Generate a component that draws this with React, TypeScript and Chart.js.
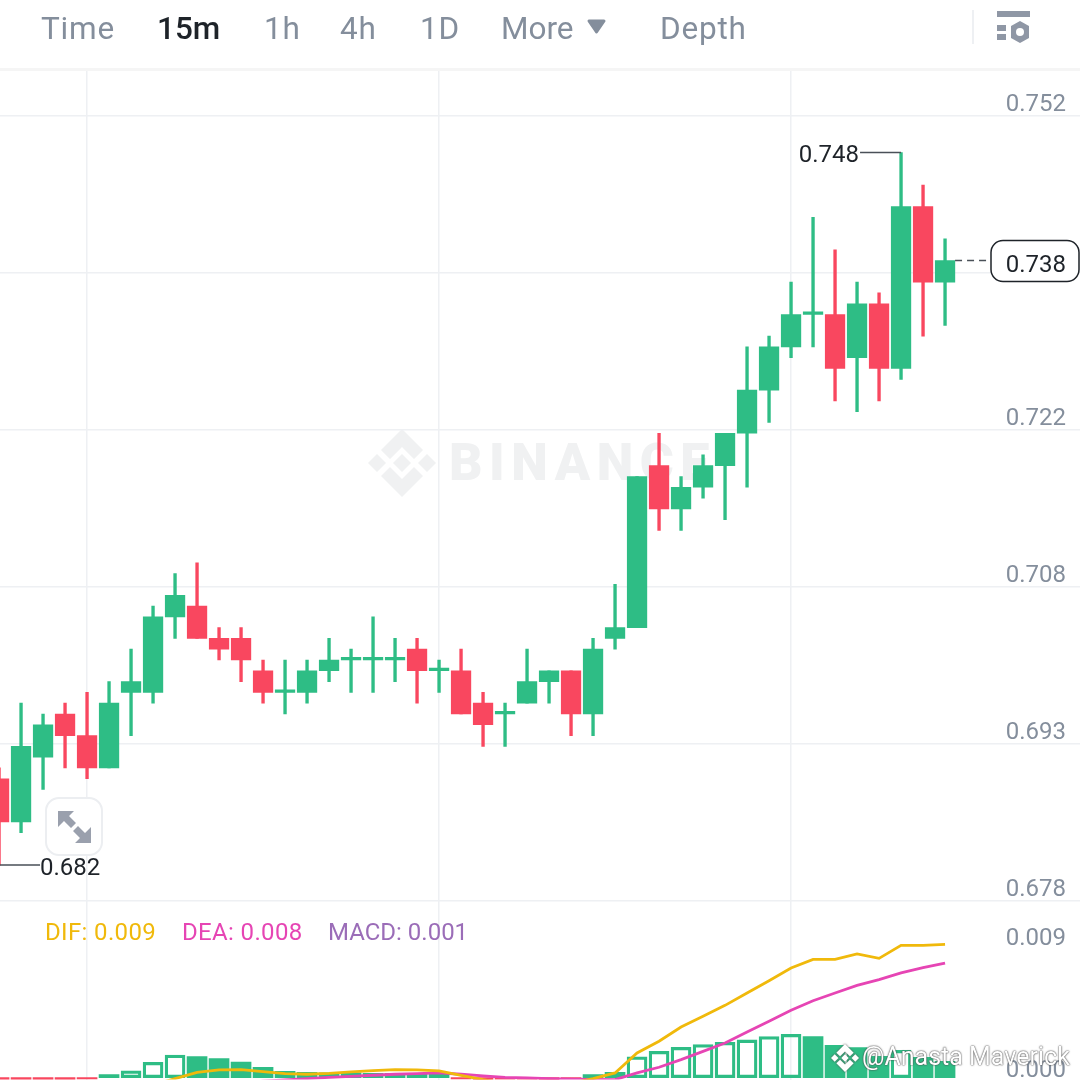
import { useEffect, useRef } from "react";
import { Chart, registerables } from "chart.js";

Chart.register(...registerables);

const opens = [
  0.69, 0.686, 0.692, 0.696, 0.694, 0.691, 0.698, 0.698, 0.705, 0.706, 0.703, 0.703, 0.7, 0.698, 0.698, 0.7, 0.701,
  0.701, 0.701, 0.702, 0.7, 0.7, 0.697, 0.696, 0.697, 0.699, 0.7, 0.696, 0.703, 0.704, 0.719, 0.715, 0.717, 0.719,
  0.722, 0.726, 0.73, 0.733, 0.733, 0.729, 0.734, 0.728, 0.743, 0.736
];
const closes = [
  0.686, 0.693, 0.695, 0.694, 0.691, 0.697, 0.699, 0.705, 0.707, 0.703, 0.702, 0.701, 0.698, 0.698, 0.7, 0.701, 0.701,
  0.701, 0.701, 0.7, 0.7, 0.696, 0.695, 0.696, 0.699, 0.7, 0.696, 0.702, 0.704, 0.718, 0.715, 0.717, 0.719, 0.722,
  0.726, 0.73, 0.733, 0.733, 0.728, 0.734, 0.728, 0.743, 0.736, 0.738
];
const highs = [
  0.691, 0.697, 0.696, 0.697, 0.698, 0.699, 0.702, 0.706, 0.709, 0.71, 0.704, 0.704, 0.701, 0.701, 0.701, 0.703, 0.702,
  0.705, 0.703, 0.703, 0.701, 0.702, 0.698, 0.697, 0.702, 0.7, 0.7, 0.703, 0.708, 0.718, 0.722, 0.718, 0.72, 0.722,
  0.73, 0.731, 0.736, 0.742, 0.739, 0.736, 0.735, 0.748, 0.745, 0.74
];
const lows = [
  0.682, 0.685, 0.689, 0.691, 0.69, 0.691, 0.694, 0.697, 0.703, 0.703, 0.701, 0.699, 0.697, 0.696, 0.697, 0.699, 0.698,
  0.698, 0.699, 0.697, 0.698, 0.696, 0.693, 0.693, 0.697, 0.697, 0.694, 0.694, 0.702, 0.704, 0.713, 0.713, 0.716, 0.714,
  0.717, 0.723, 0.729, 0.73, 0.725, 0.724, 0.725, 0.727, 0.731, 0.732
];

const macdBars = [
  -0.0002, -0.0002, -0.0002, -0.0002, -0.0001, 0.0002, 0.00046, 0.00105, 0.00155, 0.00144, 0.0013, 0.00107, 0.0007,
  0.00043, 0.00036, 0.00032, 0.00032, 0.00029, 0.00029, 0.00029, 0.00022, -0.0001, -0.00015, -0.00012, -0.00012,
  -0.00018, -0.00005, 0.0002, 0.00036, 0.00142, 0.0018, 0.00208, 0.00226, 0.00242, 0.00258, 0.00281, 0.00297, 0.00281,
  0.00221, 0.00205, 0.00146, 0.00187, 0.00139, 0.00112
];
const hollowBars = [6, 7, 8, 29, 30, 31, 32, 33, 34, 35, 36, 41];
const difValues = [
  -0.0017, -0.0017, -0.0016, -0.0016, -0.0015, -0.0012, -0.0009, -0.0005, -0.00007, 0.00036, 0.00053, 0.00055, 0.00041,
  0.00027, 0.00023, 0.00029, 0.00039, 0.00048, 0.00055, 0.00053, 0.00046, 0.00016, -0.00014, -0.0004, -0.0005, -0.0005,
  -0.0004, -0.00007, 0.00032, 0.00169, 0.00249, 0.00347, 0.0042, 0.00495, 0.0058, 0.00664, 0.00751, 0.0081, 0.0081,
  0.00847, 0.00817, 0.00906, 0.00906, 0.00913
];
const deaValues = [
  -0.0014, -0.0014, -0.0014, -0.0014, -0.0013, -0.0012, -0.0011, -0.0009, -0.0007, -0.00055, -0.00045, -0.00035,
  -0.00025, -0.00015, -0.00007, 0.00002, 0.00009, 0.00016, 0.00023, 0.00027, 0.00032, 0.00023, 0.00012, 0.00002,
  -0.00002, -0.00007, -0.0001, -0.00012, -0.00014, 0.00032, 0.00071, 0.00123, 0.0018, 0.00237, 0.00313, 0.00386,
  0.00461, 0.00527, 0.0058, 0.00632, 0.00671, 0.00717, 0.00753, 0.00785
];

const priceTicks = [0.75139, 0.73686, 0.72232, 0.70778, 0.69325, 0.67871];
const priceTickLabels = ["0.752", "0.737", "0.722", "0.708", "0.693", "0.678"];
const macdTicks = [0.009, 0];
const macdTickLabels = ["0.009", "0.000"];
const timeGridIndexes = [4, 20, 36];

const tabs = ["Time", "15m", "1h", "4h", "1D", "More", "Depth"];
const tabLefts = [41, 157, 264, 340, 420, 501, 660];

const GREEN = "#2EBD85";
const RED = "#F9475F";
const GREY = "#848E9C";
const DARK = "#1E2329";
const GRID = "#EEF0F3";
const FONT = "Roboto, sans-serif";

const indexes = opens.map((_, i) => i);
const candleColors = indexes.map((i) => (closes[i] >= opens[i] ? GREEN : RED));
const last = indexes.length - 1;

// high, low and last price callouts sit on the price scale
const priceMarkers = {
  id: "priceMarkers",
  afterDatasetsDraw(chart: any) {
    const { ctx, scales } = chart;
    const xs = scales.x;
    const ys = scales.y;
    const high = Math.max(...highs);
    const low = Math.min(...lows);
    const highX = xs.getPixelForValue(highs.indexOf(high));
    const lowX = xs.getPixelForValue(lows.indexOf(low));
    const highY = ys.getPixelForValue(high);
    const lowY = ys.getPixelForValue(low);
    const lastY = ys.getPixelForValue(closes[last]);
    const lastX = xs.getPixelForValue(last);

    ctx.save();
    ctx.font = `24px ${FONT}`;
    ctx.textBaseline = "middle";
    ctx.strokeStyle = "#4A5058";
    ctx.lineWidth = 1.5;
    ctx.fillStyle = DARK;

    ctx.beginPath();
    ctx.moveTo(highX, highY);
    ctx.lineTo(highX - 41, highY);
    ctx.moveTo(lowX, lowY);
    ctx.lineTo(lowX + 41, lowY);
    ctx.stroke();
    ctx.textAlign = "right";
    ctx.fillText(high.toFixed(3), highX - 42, highY + 3);
    ctx.textAlign = "left";
    ctx.fillText(low.toFixed(3), lowX + 41, lowY + 4);

    ctx.setLineDash([7, 5]);
    ctx.beginPath();
    ctx.moveTo(lastX + 10, lastY);
    ctx.lineTo(991, lastY);
    ctx.stroke();
    ctx.setLineDash([]);

    ctx.beginPath();
    ctx.roundRect(991, lastY - 20, 88, 41, 12);
    ctx.fillStyle = "#fff";
    ctx.fill();
    ctx.strokeStyle = DARK;
    ctx.stroke();
    ctx.fillStyle = DARK;
    ctx.textAlign = "right";
    ctx.fillText(closes[last].toFixed(3), 1066, lastY + 5);
    ctx.restore();
  }
};

function Logo({ x, y, size, fill, style }: { x: number; y: number; size: number; fill: string; style?: any }) {
  return (
    <svg
      viewBox="0 0 68 68"
      width={size}
      height={size}
      style={{ position: "absolute", left: x - size / 2, top: y - size / 2, ...style }}
    >
      <g fill={fill}>
        <polygon points="34,0 55,21 46,30 34,18 22,30 13,21" />
        <polygon points="34,68 55,47 46,38 34,50 22,38 13,47" />
        <polygon points="34,25 43,34 34,43 25,34" />
        <polygon points="9,25 18,34 9,43 0,34" />
        <polygon points="59,25 68,34 59,43 50,34" />
      </g>
    </svg>
  );
}

export default function App() {
  const canvasRef = useRef<HTMLCanvasElement | null>(null);

  useEffect(() => {
    if (!canvasRef.current) return;

    const chart = new Chart(canvasRef.current, {
      type: "bar",
      data: {
        datasets: [
          {
            type: "line",
            data: indexes.map((i) => ({ x: i, y: difValues[i] })),
            yAxisID: "macd",
            borderColor: "#F0B90B",
            borderWidth: 2.8,
            pointRadius: 0,
            tension: 0,
            order: 0
          },
          {
            type: "line",
            data: indexes.map((i) => ({ x: i, y: deaValues[i] })),
            yAxisID: "macd",
            borderColor: "#E645B4",
            borderWidth: 2.8,
            pointRadius: 0,
            tension: 0,
            order: 0
          },
          {
            data: indexes.map((i) => ({ x: i, y: [0, macdBars[i]] })),
            yAxisID: "macd",
            grouped: false,
            barThickness: 20,
            backgroundColor: indexes.map((i) =>
              hollowBars.includes(i) ? "transparent" : macdBars[i] >= 0 ? GREEN : RED
            ),
            borderColor: indexes.map((i) => (macdBars[i] >= 0 ? GREEN : RED)),
            borderWidth: indexes.map((i) => (hollowBars.includes(i) ? 2.6 : 0)),
            borderSkipped: false,
            order: 1
          },
          {
            // candle bodies
            data: indexes.map((i) => ({ x: i, y: [opens[i], closes[i]] })),
            yAxisID: "y",
            grouped: false,
            barThickness: 19.6,
            minBarLength: 2.6,
            backgroundColor: candleColors,
            order: 2
          },
          {
            // wicks
            data: indexes.map((i) => ({ x: i, y: [lows[i], highs[i]] })),
            yAxisID: "y",
            grouped: false,
            barThickness: 2.7,
            backgroundColor: candleColors,
            order: 3
          }
        ] as any
      },
      options: {
        animation: false,
        responsive: false,
        layout: { padding: { top: 70, left: 0, right: 0, bottom: 0 } },
        plugins: { legend: { display: false }, tooltip: { enabled: false } },
        scales: {
          x: {
            type: "linear",
            offset: false,
            min: 0.043,
            max: 49.134,
            border: { display: false },
            grid: { offset: false, color: GRID, lineWidth: 1.5, drawTicks: false },
            ticks: { display: false },
            afterBuildTicks: (axis: any) => {
              axis.ticks = timeGridIndexes.map((value) => ({ value }));
            }
          },
          y: {
            type: "linear",
            position: "right",
            stack: "panes",
            stackWeight: 831.5,
            min: 0.67866,
            max: 0.75565,
            border: { display: false },
            grid: { color: GRID, lineWidth: 1.5, drawTicks: false },
            afterBuildTicks: (axis: any) => {
              axis.ticks = priceTicks.map((value) => ({ value }));
            },
            ticks: {
              mirror: true,
              autoSkip: false,
              padding: -14,
              labelOffset: -11,
              color: GREY,
              font: { family: FONT, size: 24 },
              callback: (_: any, i: number) => priceTickLabels[i]
            }
          },
          macd: {
            type: "linear",
            position: "right",
            stack: "panes",
            stackWeight: 178.5,
            min: -0.000137,
            max: 0.01209,
            border: { display: false },
            grid: { display: false },
            afterBuildTicks: (axis: any) => {
              axis.ticks = macdTicks.map((value) => ({ value }));
            },
            ticks: {
              mirror: true,
              autoSkip: false,
              padding: -14,
              labelOffset: -7,
              color: GREY,
              font: { family: FONT, size: 24 },
              callback: (_: any, i: number) => macdTickLabels[i]
            }
          }
        }
      } as any,
      plugins: [priceMarkers]
    });

    return () => chart.destroy();
  }, []);

  return (
    <div
      style={{
        position: "relative",
        width: 1080,
        height: 1080,
        overflow: "hidden",
        background: "#fff",
        fontFamily: FONT
      }}
    >
      <style>{"body{margin:0}"}</style>

      <Logo x={402} y={463} size={68} fill="#F0F1F2" />
      <div
        style={{
          position: "absolute",
          left: 449,
          top: 433,
          fontSize: 52,
          fontWeight: 900,
          letterSpacing: 6.5,
          color: "#F0F1F2",
          lineHeight: "60px"
        }}
      >
        BINANCE
      </div>

      <canvas
        ref={canvasRef}
        width={1080}
        height={1080}
        style={{ position: "absolute", left: 0, top: 0, display: "block" }}
      />

      {tabs.map((tab, i) => (
        <div
          key={tab}
          style={{
            position: "absolute",
            left: tabLefts[i],
            top: 10,
            fontSize: 31.5,
            lineHeight: "38px",
            letterSpacing: tab === "15m" || tab === "More" ? 0 : 0.8,
            fontWeight: tab === "15m" ? 500 : 400,
            color: tab === "15m" ? DARK : GREY
          }}
        >
          {tab}
        </div>
      ))}
      <svg style={{ position: "absolute", left: 580, top: 12 }} width={30} height={26}>
        <polygon points="9,9 24,9 16.5,20" fill={GREY} stroke={GREY} strokeWidth={3} strokeLinejoin="round" />
      </svg>
      <div style={{ position: "absolute", left: 972, top: 10, width: 2, height: 34, background: "#EEF0F3" }} />
      <svg style={{ position: "absolute", left: 990, top: 5 }} width={46} height={42} fill="#8F97A5">
        <rect x={7} y={6} width={33} height={6} />
        <rect x={7} y={20} width={9} height={6} />
        <rect x={7} y={29} width={9} height={6} />
        <polygon
          fillRule="evenodd"
          points="30,16 39,21 39,33 30,38 21,33 21,21"
        />
        <circle cx={30} cy={27} r={4} fill="#fff" />
      </svg>
      <div style={{ position: "absolute", left: 0, top: 68, width: 1080, height: 3, background: "#F5F5F5" }} />

      <div
        style={{
          position: "absolute",
          left: 45,
          top: 797,
          width: 58,
          height: 59,
          boxSizing: "border-box",
          border: "2px solid #ECEEF1",
          borderRadius: 14,
          background: "#fff"
        }}
      />
      <svg style={{ position: "absolute", left: 45, top: 797 }} width={58} height={59} fill="#9AA0AD">
        <polygon points="13,14 29,14 24,19 31,26 26,31 19,24 13,30" />
        <polygon points="46,46 30,46 35,41 28,34 33,29 40,36 46,30" />
      </svg>

      <div style={{ position: "absolute", left: 45, top: 917, fontSize: 24, lineHeight: "30px", letterSpacing: 0.35 }}>
        <span style={{ position: "absolute", left: 0, whiteSpace: "nowrap", color: "#F0B90B" }}>
          DIF: {difValues[last].toFixed(3)}
        </span>
        <span style={{ position: "absolute", left: 137, whiteSpace: "nowrap", color: "#E645B4" }}>
          DEA: {deaValues[last].toFixed(3)}
        </span>
        <span style={{ position: "absolute", left: 283, whiteSpace: "nowrap", color: "#9B6DB8", letterSpacing: 0 }}>
          MACD: {macdBars[last].toFixed(3)}
        </span>
      </div>

      <Logo x={845} y={1058} size={28} fill="#fff" style={{ filter: "drop-shadow(0 0 1px #555)" }} />
      <div
        style={{
          position: "absolute",
          left: 862,
          top: 1042,
          fontSize: 25,
          lineHeight: "30px",
          whiteSpace: "nowrap",
          color: "#fff",
          textShadow: "0 0 2px #444, 0 0 1px #444"
        }}
      >
        @Anasta Maverick
      </div>
    </div>
  );
}
